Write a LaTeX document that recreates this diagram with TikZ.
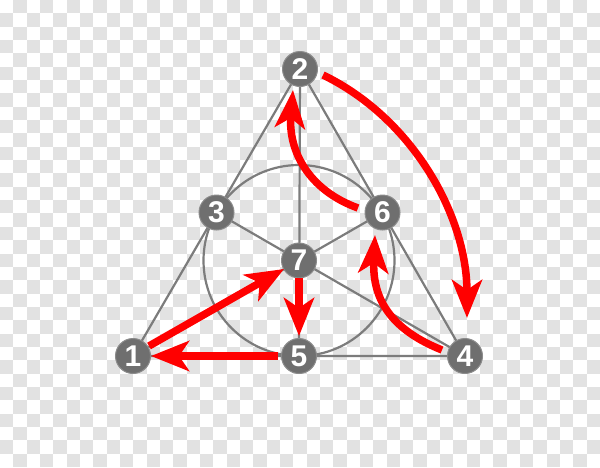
\documentclass[tikz,border=0pt]{standalone}
\usepackage{fontspec}
\setmainfont{Liberation Sans}
\usetikzlibrary{arrows.meta}
\definecolor{chk}{RGB}{226,226,226}
\definecolor{edgegray}{HTML}{7C7C7C}
\definecolor{nodegray}{HTML}{6F6F6F}
\definecolor{arrred}{HTML}{FF0000}
\tikzset{
  vtx/.style={circle,fill=nodegray,draw=nodegray!80!white,line width=1pt,minimum size=35pt,inner sep=0pt,
    text=white,font=\fontsize{30}{30}\selectfont\bfseries},
  edge/.style={draw=edgegray,line width=2.2pt},
  redarr/.style={draw=arrred,line width=7.5pt,-{Stealth[length=38pt,width=30pt,inset=10pt]}},
}
\begin{document}
\begin{tikzpicture}[x=1pt,y=-1pt]
\useasboundingbox (0,0) rectangle (600,467);
\fill[white] (0,0) rectangle (600,467);
\foreach \j in {0,1,...,34}{
  \foreach \i in {0,2,...,44}{
    \fill[chk] ({(\i+mod(\j+1,2))*13.3333pt},{-\j*13.3429pt}) rectangle ++(13.3333pt,-13.3429pt);
  }
}
% positions
\coordinate (p1) at (133,356);
\coordinate (p2) at (300,69);
\coordinate (p3) at (216.5,212.5);
\coordinate (p4) at (465,356);
\coordinate (p5) at (299,356);
\coordinate (p6) at (382.5,212.5);
\coordinate (p7) at (299,260.5);
% lines
\draw[edge] (p1) -- (p2) -- (p4) -- cycle;
\draw[edge] (p1) -- (p6);
\draw[edge] (p4) -- (p3);
\draw[edge] (p2) -- (p5);
\draw[edge] (p7) circle[radius=95.5];
% nodes
\node[vtx] (n1) at (p1) {1};
\node[vtx] (n2) at (p2) {2};
\node[vtx] (n3) at (p3) {3};
\node[vtx] (n4) at (p4) {4};
\node[vtx] (n5) at (p5) {5};
\node[vtx] (n6) at (p6) {6};
\node[vtx] (n7) at (p7) {7};
% red arrows
\coordinate (a2s) at (323,75);
\coordinate (a4e) at (467,318);
\draw[redarr] (a2s) .. controls (412,118) and (467,215) .. (a4e);
\coordinate (a6s) at (358,208);
\coordinate (a2e) at (293,90);
\draw[redarr] (a6s) .. controls (308,190) and (288,150) .. (a2e);
\coordinate (a4s) at (442,350);
\coordinate (a6e) at (375,235);
\draw[redarr] (a4s) .. controls (392,330) and (372,300) .. (a6e);
\coordinate (a5s) at (278,356);
\coordinate (a1e) at (151,356);
\draw[redarr] (a5s) -- (a1e);
\coordinate (a1s) at (149,346);
\coordinate (a7e) at (284,269);
\draw[redarr] (a1s) -- (a7e);
\coordinate (a7s) at (299,278);
\coordinate (a5e) at (299,336);
\draw[redarr] (a7s) -- (a5e);
\end{tikzpicture}
\end{document}
